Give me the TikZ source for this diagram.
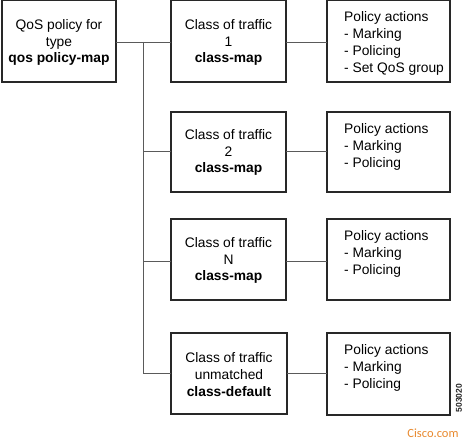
\documentclass[tikz,border=0pt]{standalone}
\usepackage{fontspec}
\setmainfont{Liberation Sans}
\newfontfamily\ciscofont{Carlito}
\definecolor{boxline}{RGB}{40,40,40}
\definecolor{conline}{RGB}{90,90,90}
\definecolor{ciscoorange}{RGB}{232,137,46}
\begin{document}
\begin{tikzpicture}[x=1pt,y=-1pt,
  box/.style={draw=boxline,line width=1.4pt},
  con/.style={draw=conline,line width=0.9pt},
  ctext/.style={align=center,font=\fontsize{13.8}{16.9}\selectfont,inner sep=0pt},
  atext/.style={align=left,anchor=north west,font=\fontsize{13.8}{16.9}\selectfont,inner sep=0pt}]
\useasboundingbox (0,0) rectangle (474,444);
% boxes
\draw[box] (2,0.7) rectangle (116,82);
\node[ctext] (p) at (59,42.5) {QoS policy for\\type\\\textbf{qos policy-map}};

\draw[box] (171,0.7) rectangle (286,82);
\node[ctext] (c1) at (228.5,42.5) {Class of traffic\\1\\\textbf{class-map}};
\draw[box] (327,0.7) rectangle (450,82);
\node[atext] (a1) at (344,11.5) {Policy actions\\- Marking\\- Policing\\- Set QoS group};

\draw[box] (171,112) rectangle (286,192);
\node[ctext] (c2) at (228.5,152.5) {Class of traffic\\2\\\textbf{class-map}};
\draw[box] (327,112) rectangle (450,192);
\node[atext] (a2) at (344,123) {Policy actions\\- Marking\\- Policing};

\draw[box] (171,219) rectangle (286,300);
\node[ctext] (cn) at (228.5,260.5) {Class of traffic\\N\\\textbf{class-map}};
\draw[box] (327,219) rectangle (450,300);
\node[atext] (an) at (344,230) {Policy actions\\- Marking\\- Policing};

\draw[box] (171,333) rectangle (287,414);
\node[ctext] (cu) at (229,374.5) {Class of traffic\\unmatched\\\textbf{class-default}};
\draw[box] (327,333) rectangle (450,415);
\node[atext] (au) at (344,344.5) {Policy actions\\- Marking\\- Policing};

% connectors
\coordinate (b0) at (143,42);
\coordinate (b1) at (143,151);
\coordinate (b2) at (143,261);
\coordinate (b3) at (143,373);
\draw[con] (116,42) -- (171,42);
\draw[con] (b0) -- (b3) -- (171,373);
\draw[con] (b1) -- (171,151);
\draw[con] (b2) -- (171,261);
\draw[con] (286,42) -- (327,42);
\draw[con] (286,151) -- (327,151);
\draw[con] (286,261) -- (327,261);
\draw[con] (287,373) -- (327,373);

\node[rotate=90,font=\bfseries\fontsize{8.5}{9}\selectfont,text=black!85,inner sep=0pt] (id) at (459,398) {503020};
\node[font=\ciscofont\fontsize{12.5}{14}\selectfont,text=ciscoorange,inner sep=0pt] (cisco) at (433,433) {Cisco.com};
\end{tikzpicture}
\end{document}
